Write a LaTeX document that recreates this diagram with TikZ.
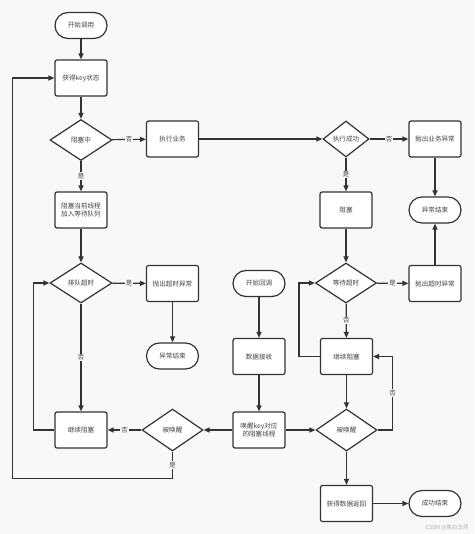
\documentclass[tikz,border=0pt]{standalone}
\usepackage{fontspec}
\newfontfamily\cjk{Noto Sans CJK SC}
\usetikzlibrary{shapes.geometric,arrows.meta,calc}
\definecolor{bgc}{HTML}{F8F8F8}
\definecolor{ln}{HTML}{333333}
\definecolor{tx}{HTML}{444444}
\begin{document}
\begin{tikzpicture}[x=1pt,y=-1pt,
  every node/.style={font=\cjk\fontsize{6.6}{8.5}\selectfont, text=tx},
  box/.style={rectangle, rounded corners=2pt, draw=ln, line width=1.2pt, fill=white,
    minimum width=52pt, minimum height=36pt, inner sep=1pt, align=center},
  term/.style={rectangle, rounded corners=13pt, draw=ln, line width=1.2pt, fill=white,
    minimum width=52pt, minimum height=26pt, inner sep=1pt, align=center},
  dia/.style={diamond, draw=ln, line width=1.2pt, fill=white, inner sep=0pt,
    minimum width=62pt, minimum height=41pt, align=center},
  arr/.style={draw=ln, line width=1.2pt, -{Triangle[length=6pt,width=5pt]}},
  lbl/.style={fill=bgc, inner sep=1pt, font=\cjk\fontsize{6.4}{8}\selectfont}]
\fill[bgc] (0,0) rectangle (474,534);
\useasboundingbox (0,0) rectangle (474,534);

% left column
\node[term] (start) at (81,25.5) {开始调用};
\node[box] (getkey) at (81,78) {获得key状态};
\node[dia] (blocking) at (81,140) {阻塞中};
\node[box] (blockcur) at (81,210) {阻塞当前线程\\加入等待队列};
\node[dia, minimum height=40pt] (queueto) at (81,283) {排队超时};
\node[box] (contL) at (81,430) {继续阻塞};

% second column
\node[box] (exec) at (172.5,139) {执行业务};
\node[box] (toexL) at (172.5,283.5) {抛出超时异常};
\node[term] (errL) at (172.5,356) {异常结束};
\node[dia, minimum width=61pt, minimum height=42pt] (wakeL) at (172.5,430) {被唤醒};

% third column
\node[term] (startcb) at (259,283.5) {开始回调};
\node[box] (recv) at (259,356.5) {数据接收};
\node[box] (wakekey) at (259,430) {唤醒key对应\\的阻塞线程};

% fourth column
\node[dia, minimum width=46pt, minimum height=36pt] (execok) at (346,139) {执行成功};
\node[box] (block) at (346,210) {阻塞};
\node[dia, minimum width=61pt, minimum height=40pt] (waitto) at (346,283) {等待超时};
\node[box] (contR) at (346.5,356.5) {继续阻塞};
\node[dia, minimum width=61pt, minimum height=42pt] (wakeR) at (346.5,430) {被唤醒};
\node[box] (gotdata) at (346.5,503.5) {获得数据返回};

% fifth column
\node[box] (bizex) at (435,139) {抛出业务异常};
\node[term] (errR) at (435,210) {异常结束};
\node[box] (toexR) at (435,283.5) {抛出超时异常};
\node[term] (succ) at (435,503.5) {成功结束};

\node[font=\cjk\fontsize{5.5}{7}\selectfont, text=black!30, anchor=east] (wm) at (472,528) {CSDN @黑白法师};

\coordinate (lp) at ($(getkey.west)+(-42,0)$);

% connectors
\draw[arr] (start) -- (getkey);
\draw[arr] (getkey) -- (blocking);
\draw[arr] (blocking) -- node[lbl]{否} (exec);
\draw[arr] (blocking) -- node[lbl]{是} (blockcur);
\draw[arr] (exec) -- (execok);
\draw[arr] (execok) -- node[lbl]{否} (bizex);
\draw[arr] (execok) -- node[lbl]{是} (block);
\draw[arr] (bizex) -- (errR);
\draw[arr] (block) -- (waitto);
\draw[arr] (toexR) -- (errR);
\draw[arr] (waitto) -- node[lbl]{是} (toexR);
\draw[arr] (waitto) -- node[lbl]{否} (contR);
\draw[arr] (contR.west) -- ++(-21,0) |- (waitto.west);
\draw[arr] (contR) -- (wakeR);
\draw[arr] (wakeR.east) -- ++(15,0) |- node[lbl,pos=0.25]{否} (contR.east);
\draw[arr] (wakeR) -- (gotdata);
\draw[arr] (gotdata) -- (succ);
\draw[arr] (startcb) -- (recv);
\draw[arr] (recv) -- (wakekey);
\draw[arr] (wakekey) -- (wakeR);
\draw[arr] (wakekey) -- (wakeL);
\draw[arr] (blockcur) -- (queueto);
\draw[arr] (queueto) -- node[lbl]{是} (toexL);
\draw[arr] (toexL) -- (errL);
\draw[arr] (queueto) -- node[lbl]{否} (contL);
\draw[arr] (contL.west) -- ++(-21,0) |- (queueto.west);
\draw[arr] (wakeL) -- node[lbl]{否} (contL);
\draw[arr] (wakeL.south) -- node[lbl]{是} ++(0,27) -| (lp) -- (getkey.west);
\end{tikzpicture}
\end{document}
